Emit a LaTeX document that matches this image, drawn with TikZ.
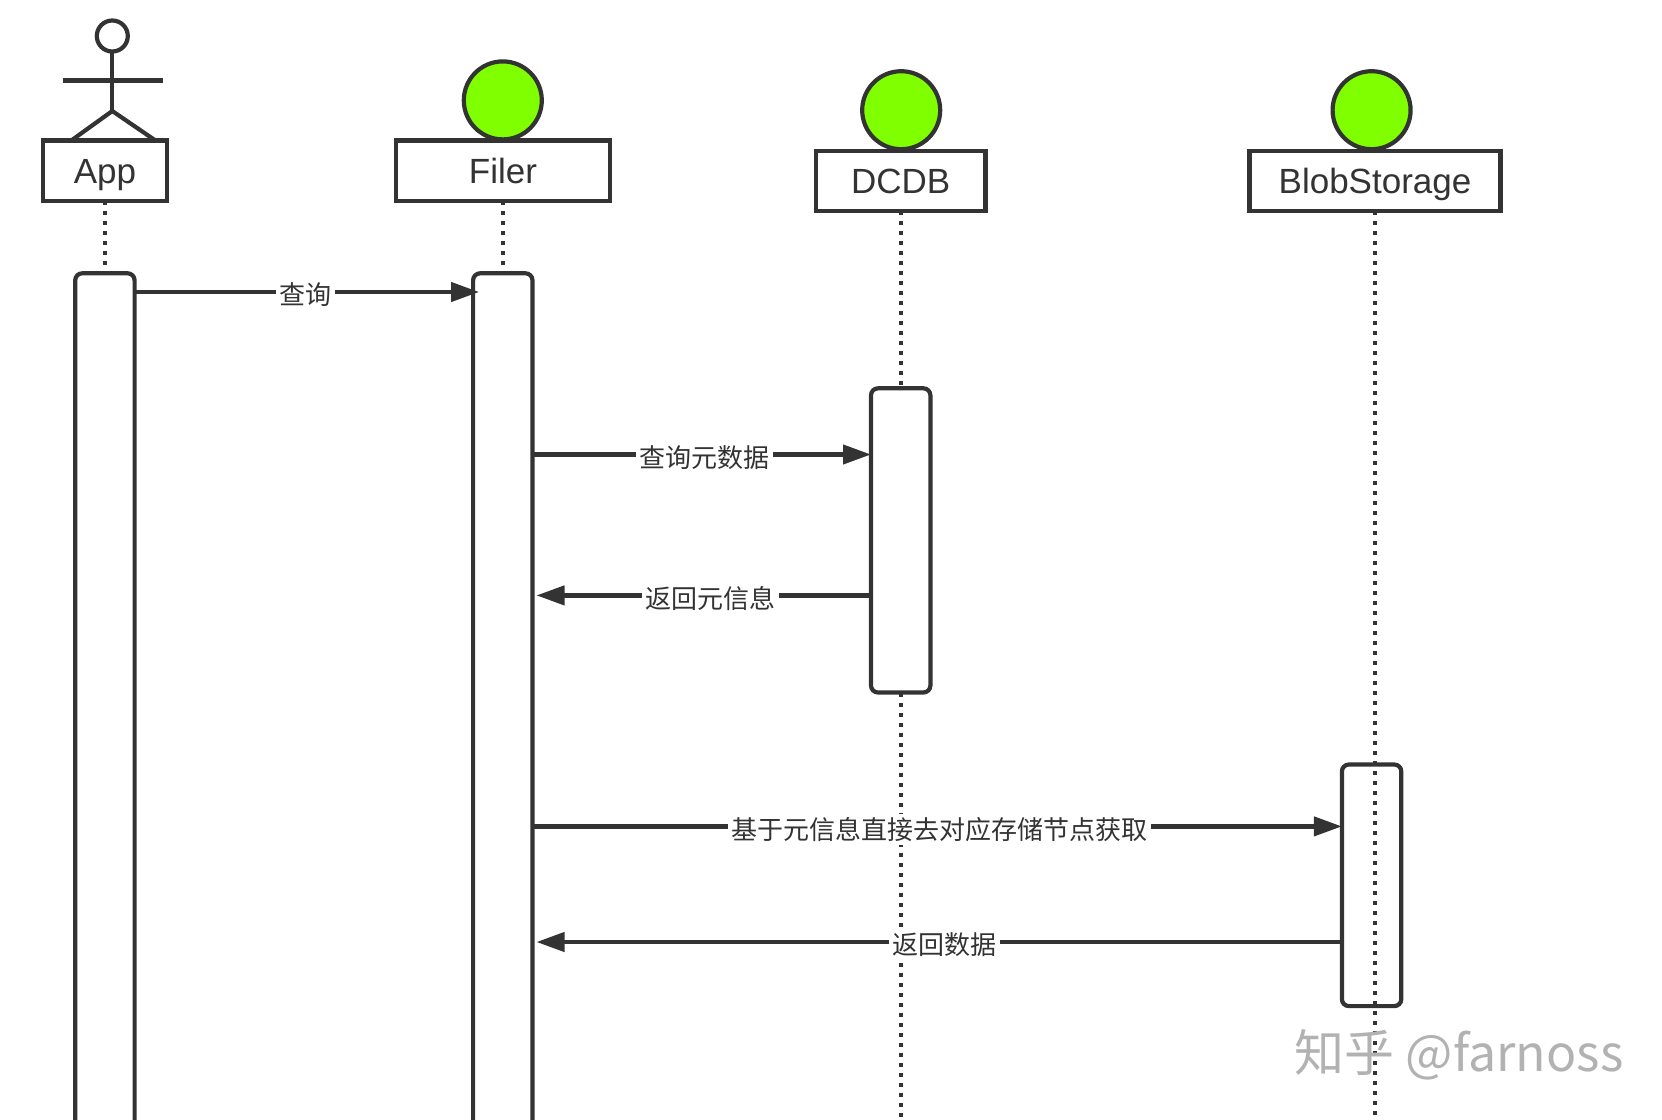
\documentclass[tikz,border=0pt]{standalone}
\usepackage{fontspec}
\setmainfont{Noto Sans CJK SC}
\newfontfamily\hdfont{Liberation Sans}
\usetikzlibrary{arrows.meta,calc}
\definecolor{ink}{HTML}{333333}
\definecolor{lime}{HTML}{80FF00}
\definecolor{wm}{HTML}{B2B2B2}
\tikzset{
  x=0.5pt,y=-0.5pt,
  ln/.style={draw=ink,line width=2.1pt},
  head/.style={ln,fill=white,rectangle,inner sep=0pt,outer sep=0pt,text=ink,text height=12.2pt,text depth=0pt,font=\hdfont\fontsize{17.5}{20}\selectfont},
  act/.style={ln,fill=white,rectangle,rounded corners=3.5pt,inner sep=0pt,outer sep=0pt,minimum width=29.7pt},
  ball/.style={ln,fill=lime,circle,inner sep=0pt,outer sep=0pt,minimum size=39pt},
  life/.style={draw=ink,line width=2pt,dash pattern=on 2pt off 3pt},
  msg/.style={draw=ink,line width=2.1pt,-{Triangle[length=14pt,width=9.5pt]}},
  lab/.style={fill=white,inner sep=1.7pt,text=ink,font=\fontsize{13}{15}\selectfont},
}
\begin{document}
\begin{tikzpicture}
\clip (0,0) rectangle (1662,1120);
% free ends and message levels
\coordinate (end) at (0,1120);
\coordinate (m1) at (0,292);
\coordinate (m2) at (0,454.5);
\coordinate (m3) at (0,595.4);
\coordinate (m4) at (0,826.4);
\coordinate (m5) at (0,942);
% actor
\node[ln,circle,fill=white,inner sep=0pt,outer sep=0pt,minimum size=15.5pt] (hd) at (112.3,36) {};
\coordinate (hip) at (112.3,111);
\coordinate (armL) at (62.5,80.5);
\coordinate (armR) at (163.2,80.5);
\coordinate (legL) at (72,140);
\coordinate (legR) at (154.7,140);
\draw[ln] (hd.south) -- (hip);
\draw[ln] (armL) -- (armR);
\draw[ln] (legL) -- (hip) -- (legR);
% circles
\node[ball] (cF) at (502.8,100.4) {};
\node[ball] (cD) at (901.2,110.2) {};
\node[ball] (cB) at (1371.6,110.2) {};
% head boxes
\node[head,minimum width=61.75pt,minimum height=30.3pt] (app) at (104.9,170.8) {App};
\node[head,minimum width=107.3pt,minimum height=30.3pt] (filer) at (503,170.8) {Filer};
\node[head,minimum width=84.8pt,minimum height=30.3pt] (dcdb) at (900.7,181) {DCDB};
\node[head,minimum width=125.5pt,minimum height=30.3pt] (blob) at (1375,181) {BlobStorage};
% activations
\node[act,minimum height=450pt] (aA) at (104.9,723.3) {};
\node[act,minimum height=450pt] (aF) at (502.8,723.3) {};
\node[act,minimum height=152.1pt] (aD) at (900.7,540.4) {};
\node[act,minimum height=120.8pt] (aB) at (1371.6,885.3) {};
% lifelines
\draw[life] (app.south) -- (app.south |- aA.north);
\draw[life] (filer.south) -- (filer.south |- aF.north);
\draw[life] (dcdb.south) -- (aD.north);
\draw[life] (aD.south) -- (aD.south |- end);
\draw[life] (blob.south) -- (blob.south |- end);
% messages
\draw[msg] (aA.east |- m1) -- node[lab,pos=.5,xshift=-0.5pt,yshift=-1.5pt]{查询} ($(aF.west |- m1)+(6,0)$);
\draw[msg] (aF.east |- m2) -- node[lab,pos=.5,xshift=1.2pt,yshift=-1.5pt]{查询元数据} (aD.west |- m2);
\draw[msg] (aD.west |- m3) -- node[lab,pos=.5,xshift=3.5pt,yshift=-1.5pt]{返回元信息} ($(aF.east |- m3)+(4,0)$);
\draw[msg] (aF.east |- m4) -- node[lab,pos=.5,xshift=1pt,yshift=-1.5pt]{基于元信息直接去对应存储节点获取} (aB.west |- m4);
\draw[msg] (aB.west |- m5) -- node[lab,pos=.5,xshift=2.7pt,yshift=-1.5pt]{返回数据} ($(aF.east |- m5)+(4,0)$);
% watermark
\node[text=wm,inner sep=0pt,font=\fontsize{25}{28}\selectfont] (mark) at (1459,1055) {知乎 @farnoss};
\end{tikzpicture}
\end{document}
